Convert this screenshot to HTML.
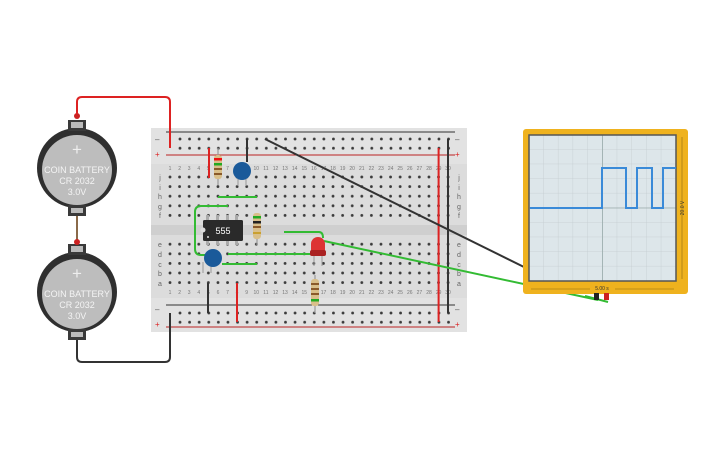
<!DOCTYPE html>
<html><head><meta charset="utf-8"><style>
html,body{margin:0;padding:0;background:#fff;width:725px;height:453px;overflow:hidden}
svg{display:block}
text{font-family:"Liberation Sans",sans-serif}
</style></head><body>
<svg width="725" height="453" viewBox="0 0 725 453" xmlns="http://www.w3.org/2000/svg">
<defs>
<pattern id="h" x="165.2" y="172.2" width="9.59" height="9.6" patternUnits="userSpaceOnUse">
<circle cx="4.8" cy="4.8" r="1.4" fill="#3a3a3a"/></pattern>
<pattern id="r" x="175.2" y="134.2" width="9.59" height="9.2" patternUnits="userSpaceOnUse">
<circle cx="4.8" cy="4.8" r="1.4" fill="#3a3a3a"/></pattern>
<pattern id="r2" x="175.2" y="308.2" width="9.59" height="9.2" patternUnits="userSpaceOnUse">
<circle cx="4.8" cy="4.8" r="1.4" fill="#3a3a3a"/></pattern>
<pattern id="g" x="529" y="135" width="14.7" height="14.6" patternUnits="userSpaceOnUse">
<path d="M14.7 0V14.6M0 14.6H14.7" stroke="#c4ccd0" stroke-width="0.8" fill="none"/></pattern>
</defs>

<rect x="151" y="128" width="316" height="204" rx="2" fill="#dcdcdc"/>
<rect x="151" y="128" width="316" height="36" fill="#e2e2e2"/>
<rect x="151" y="298" width="316" height="34" fill="#e2e2e2"/>
<rect x="151" y="225" width="316" height="10" fill="#cfcfcf"/>
<line x1="166" y1="132" x2="455" y2="132" stroke="#333" stroke-width="1"/>
<line x1="166" y1="155" x2="455" y2="155" stroke="#b22" stroke-width="1"/>
<line x1="166" y1="305" x2="455" y2="305" stroke="#333" stroke-width="1"/>
<line x1="166" y1="327" x2="455" y2="327" stroke="#b22" stroke-width="1"/>
<rect x="175" y="134" width="278" height="19" fill="url(#r)"/>
<rect x="175" y="308" width="278" height="19" fill="url(#r2)"/>
<rect x="165" y="172" width="288" height="48" fill="url(#h)"/>
<rect x="165" y="239" width="288" height="48" fill="url(#h)"/>
<g font-size="8" fill="#555">
<text x="155" y="142">–</text><text x="155" y="157" fill="#d22">+</text>
<text x="455" y="142">–</text><text x="455" y="157" fill="#d22">+</text>
<text x="155" y="312">–</text><text x="155" y="327" fill="#d22">+</text>
<text x="455" y="312">–</text><text x="455" y="327" fill="#d22">+</text>
</g>
<g font-size="7" fill="#666" text-anchor="middle">
<text x="160" y="180">j</text><text x="160" y="190">i</text><text x="160" y="199">h</text><text x="160" y="209">g</text><text x="160" y="218">f</text>
<text x="160" y="247">e</text><text x="160" y="257">d</text><text x="160" y="267">c</text><text x="160" y="276">b</text><text x="160" y="286">a</text>
<text x="459" y="180">j</text><text x="459" y="190">i</text><text x="459" y="199">h</text><text x="459" y="209">g</text><text x="459" y="218">f</text>
<text x="459" y="247">e</text><text x="459" y="257">d</text><text x="459" y="267">c</text><text x="459" y="276">b</text><text x="459" y="286">a</text>
</g>
<g font-size="5" fill="#777" text-anchor="middle">
<text x="170" y="170">1</text><text x="179.6" y="170">2</text><text x="189.2" y="170">3</text><text x="198.8" y="170">4</text><text x="208.4" y="170">5</text><text x="218" y="170">6</text><text x="227.5" y="170">7</text><text x="237" y="170">8</text><text x="246.7" y="170">9</text><text x="256.3" y="170">10</text><text x="265.9" y="170">11</text><text x="275.5" y="170">12</text><text x="285" y="170">13</text><text x="294.7" y="170">14</text><text x="304.3" y="170">15</text><text x="313.9" y="170">16</text><text x="323.5" y="170">17</text><text x="333" y="170">18</text><text x="342.6" y="170">19</text><text x="352.2" y="170">20</text><text x="361.8" y="170">21</text><text x="371.4" y="170">22</text><text x="381" y="170">23</text><text x="390.6" y="170">24</text><text x="400.2" y="170">25</text><text x="409.8" y="170">26</text><text x="419.4" y="170">27</text><text x="429" y="170">28</text><text x="438.6" y="170">29</text><text x="448" y="170">30</text>
<text x="170" y="294">1</text><text x="179.6" y="294">2</text><text x="189.2" y="294">3</text><text x="198.8" y="294">4</text><text x="208.4" y="294">5</text><text x="218" y="294">6</text><text x="227.5" y="294">7</text><text x="237" y="294">8</text><text x="246.7" y="294">9</text><text x="256.3" y="294">10</text><text x="265.9" y="294">11</text><text x="275.5" y="294">12</text><text x="285" y="294">13</text><text x="294.7" y="294">14</text><text x="304.3" y="294">15</text><text x="313.9" y="294">16</text><text x="323.5" y="294">17</text><text x="333" y="294">18</text><text x="342.6" y="294">19</text><text x="352.2" y="294">20</text><text x="361.8" y="294">21</text><text x="371.4" y="294">22</text><text x="381" y="294">23</text><text x="390.6" y="294">24</text><text x="400.2" y="294">25</text><text x="409.8" y="294">26</text><text x="419.4" y="294">27</text><text x="429" y="294">28</text><text x="438.6" y="294">29</text><text x="448" y="294">30</text>
</g>

<g>
<circle cx="77" cy="168" r="40" fill="#2f2f2f"/>
<circle cx="77" cy="170" r="35" fill="#bdbdbd"/>
<rect x="68" y="120" width="18" height="11" fill="#3a3a3a"/><rect x="71" y="122" width="12" height="6" fill="#bbb"/>
<rect x="68" y="205" width="18" height="11" fill="#3a3a3a"/><rect x="71" y="208" width="12" height="5" fill="#bbb"/>
<text x="77" y="155" font-size="17" fill="#eee" text-anchor="middle">+</text>
<text x="77" y="173" font-size="9" fill="#f4f4f4" text-anchor="middle">COIN BATTERY</text>
<text x="77" y="184" font-size="9" fill="#f4f4f4" text-anchor="middle">CR 2032</text>
<text x="77" y="195" font-size="9" fill="#f4f4f4" text-anchor="middle">3.0V</text>
</g>
<g>
<circle cx="77" cy="292" r="40" fill="#2f2f2f"/>
<circle cx="77" cy="294" r="35" fill="#bdbdbd"/>
<rect x="68" y="244" width="18" height="11" fill="#3a3a3a"/><rect x="71" y="246" width="12" height="6" fill="#bbb"/>
<rect x="68" y="329" width="18" height="11" fill="#3a3a3a"/><rect x="71" y="332" width="12" height="5" fill="#bbb"/>
<text x="77" y="279" font-size="17" fill="#eee" text-anchor="middle">+</text>
<text x="77" y="297" font-size="9" fill="#f4f4f4" text-anchor="middle">COIN BATTERY</text>
<text x="77" y="308" font-size="9" fill="#f4f4f4" text-anchor="middle">CR 2032</text>
<text x="77" y="319" font-size="9" fill="#f4f4f4" text-anchor="middle">3.0V</text>
</g>
<line x1="77" y1="216" x2="77" y2="244" stroke="#8a6a4a" stroke-width="2"/>
<circle cx="77" cy="116" r="3" fill="#c22"/><circle cx="77" cy="242" r="3" fill="#c22"/>
<path d="M77,114 V102 Q77,97 82,97 H165 Q170,97 170,102 V148" stroke="#d22" stroke-width="2" fill="none"/>
<path d="M77,340 V357 Q77,362 82,362 H165 Q170,362 170,357 V313" stroke="#333" stroke-width="2" fill="none"/>

<g stroke-width="2" fill="none">
<line x1="209" y1="148" x2="209" y2="178" stroke="#d22"/>
<line x1="247" y1="139" x2="247" y2="162" stroke="#333"/>
<line x1="208" y1="283" x2="208" y2="313" stroke="#333"/>
<line x1="237" y1="283" x2="237" y2="322" stroke="#d22"/>
<line x1="438.6" y1="148" x2="438.6" y2="322" stroke="#d22"/>
<line x1="448" y1="139" x2="448" y2="313" stroke="#333"/>
<line x1="218" y1="197" x2="257" y2="197" stroke="#3b3"/>
<path d="M228,206 H201 Q195,206 195,212 V249 Q195,255 201,255 H208" stroke="#3b3"/>
<line x1="228" y1="254" x2="317" y2="254" stroke="#3b3"/>
<line x1="222" y1="264" x2="257" y2="264" stroke="#3b3"/>
<path d="M284,232 L319,232 Q323,232 323,238" stroke="#3b3"/>
<line x1="324" y1="241" x2="598" y2="300" stroke="#3b3"/>
<line x1="585" y1="296" x2="608" y2="302" stroke="#3b3"/>
<line x1="265" y1="139" x2="526" y2="268" stroke="#333"/>
</g>

<line x1="218" y1="148" x2="218" y2="185" stroke="#999" stroke-width="1.2"/>
<rect x="214" y="155" width="8" height="24" rx="3" fill="#d9bf8a"/>
<rect x="214" y="158" width="8" height="2.5" fill="#e11"/><rect x="214" y="163" width="8" height="2.5" fill="#2a2"/><rect x="214" y="168" width="8" height="2" fill="#8a5a2a"/><rect x="214" y="173" width="8" height="2" fill="#8a5a2a"/>
<line x1="238" y1="176" x2="238" y2="186" stroke="#999"/><line x1="246" y1="176" x2="246" y2="186" stroke="#999"/>
<circle cx="242" cy="171" r="9" fill="#1a5a9a"/>
<line x1="203" y1="262" x2="203" y2="273" stroke="#999"/><line x1="211" y1="262" x2="211" y2="273" stroke="#999"/>
<circle cx="213" cy="258" r="9" fill="#1a5a9a"/>
<g fill="#aaa"><rect x="206" y="215" width="3" height="6"/><rect x="216" y="215" width="3" height="6"/><rect x="226" y="215" width="3" height="6"/><rect x="235" y="215" width="3" height="6"/>
<rect x="206" y="240" width="3" height="5"/><rect x="216" y="240" width="3" height="5"/><rect x="226" y="240" width="3" height="5"/><rect x="235" y="240" width="3" height="5"/></g>
<rect x="203" y="220" width="40" height="21" rx="1.5" fill="#2a2a2a"/>
<circle cx="203" cy="230" r="2.5" fill="#dcdcdc"/><circle cx="208" cy="237" r="1" fill="#ddd"/>
<text x="223" y="234" font-size="9" fill="#fff" text-anchor="middle">555</text>
<line x1="257" y1="213" x2="257" y2="245" stroke="#999" stroke-width="1.2"/>
<rect x="253" y="213" width="8" height="26" rx="3" fill="#d9bf8a"/>
<rect x="253" y="216" width="8" height="2.5" fill="#2a2"/><rect x="253" y="221" width="8" height="2.5" fill="#222"/><rect x="253" y="226" width="8" height="2" fill="#8a5a2a"/><rect x="253" y="232" width="8" height="2" fill="#c9a030"/>
<line x1="314" y1="255" x2="314" y2="266" stroke="#999"/><line x1="322" y1="255" x2="322" y2="266" stroke="#999"/>
<path d="M311,255 V244 A7,7 0 0 1 325,244 V255 Z" fill="#d33"/>
<rect x="310" y="250" width="16" height="6" rx="2" fill="#a22"/>
<line x1="315" y1="275" x2="315" y2="313" stroke="#999" stroke-width="1.2"/>
<rect x="311" y="279" width="8" height="27" rx="3" fill="#d9bf8a"/>
<rect x="311" y="283" width="8" height="2" fill="#8a5a2a"/><rect x="311" y="288" width="8" height="2" fill="#8a5a2a"/><rect x="311" y="293" width="8" height="2" fill="#8a5a2a"/><rect x="311" y="299" width="8" height="2.5" fill="#2a2"/>

<rect x="523" y="129" width="165" height="165" rx="3" fill="#efb21e"/>
<rect x="529" y="135" width="147" height="146" fill="#dde6ea"/>
<rect x="529" y="135" width="147" height="146" fill="url(#g)"/>
<line x1="602.5" y1="135" x2="602.5" y2="281" stroke="#9aa" stroke-width="0.8"/>
<line x1="529" y1="208" x2="676" y2="208" stroke="#9aa" stroke-width="0.8"/>
<rect x="529" y="135" width="147" height="146" fill="none" stroke="#555" stroke-width="1.5"/>
<path d="M530,208 H602 V168 H626 V208 H637 V168 H652 V208 H663 V168 H676" stroke="#3a8ad8" stroke-width="2" fill="none"/>
<line x1="682" y1="137" x2="682" y2="279" stroke="#8a6a10" stroke-width="0.6"/>
<text x="684" y="208" font-size="5" fill="#333" text-anchor="middle" transform="rotate(-90 684 208)">20.0 V</text>
<line x1="531" y1="289" x2="674" y2="289" stroke="#8a6a10" stroke-width="0.6"/>
<rect x="590" y="285" width="25" height="7" fill="#efb21e"/>
<text x="602" y="290" font-size="5" fill="#333" text-anchor="middle">5.00 s</text>
<rect x="594" y="293" width="5" height="7" fill="#222"/>
<rect x="604" y="293" width="5" height="7" fill="#c22"/>
</svg>
</body></html>
